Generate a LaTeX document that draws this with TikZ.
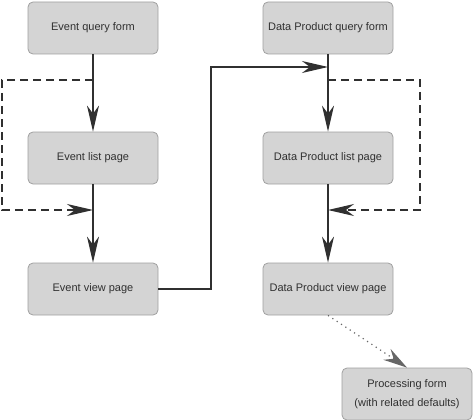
\documentclass[tikz,border=0pt]{standalone}
\usepackage{fontspec}
\setmainfont{Liberation Sans}
\usetikzlibrary{arrows.meta}
\definecolor{boxfill}{HTML}{D4D4D4}
\definecolor{boxline}{HTML}{A0A0A0}
\definecolor{ink}{HTML}{303030}
\tikzset{
  page/.style={draw=boxline, fill=boxfill, line width=0.8pt, rounded corners=5pt,
    minimum width=130pt, minimum height=52pt, align=center, text=ink,
    font=\fontsize{11}{19}\selectfont},
  tip/.style={-{Stealth[length=26pt,width=12pt,inset=8pt]}},
  flow/.style={tip, draw=ink, line width=1.4pt},
  backflow/.style={tip, draw=ink, line width=1.3pt, dash pattern=on 8pt off 5pt},
  dotflow/.style={-{Stealth[length=24pt,width=13pt,inset=8pt]}, draw=black!60, line width=1.2pt,
    dash pattern=on 1.2pt off 4pt},
}
\begin{document}
\begin{tikzpicture}[x=1pt,y=-1pt]
  \useasboundingbox (0,0) rectangle (474,420);
  % event pages
  \node[page] (eq) at (93,28) {Event query form};
  \node[page] (el) at (93,158) {Event list page};
  \node[page] (ev) at (93,289) {Event view page};
  % data product pages
  \node[page] (dq) at (328,28) {Data Product query form};
  \node[page] (dl) at (328,158) {Data Product list page};
  \node[page] (dv) at (328,289) {Data Product view page};
  \node[page] (pf) at (407,394) {Processing form\\(with related defaults)};
  \coordinate (eout) at (93,80);
  \coordinate (eback) at (93,210);
  \coordinate (dout) at (328,80);
  \coordinate (dback) at (328,210);
  \coordinate (turn) at (211,67);
  \draw[flow] (eq) -- (el);
  \draw[flow] (el) -- (ev);
  \draw[flow] (dq) -- (dl);
  \draw[flow] (dl) -- (dv);
  \draw[flow] (ev.east) -| (turn) -- (dq.south |- turn);
  \draw[backflow] (eout) -- ++(-91,0) |- (eback);
  \draw[backflow] (dout) -- ++(92,0) |- (dback);
  \draw[dotflow] (dv.south) -- (pf.north);
\end{tikzpicture}
\end{document}
